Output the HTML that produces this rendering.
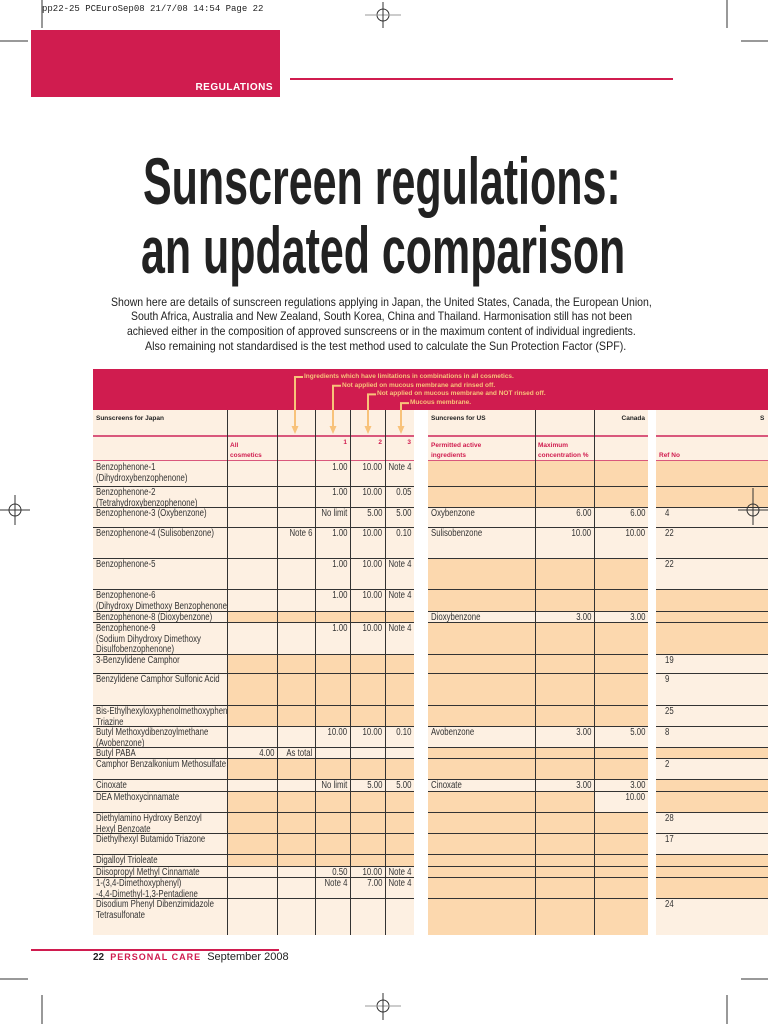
<!DOCTYPE html>
<html><head><meta charset="utf-8">
<style>
*{margin:0;padding:0;box-sizing:border-box}
body{width:768px;height:1024px;background:#fff;position:relative;overflow:hidden;font-family:"Liberation Sans",sans-serif;color:#222}
.a{position:absolute}
.fit{position:absolute;white-space:nowrap;transform-origin:0 0}
.cell{position:absolute;font-size:10px;line-height:10.5px;padding:2px 3px 0 3px;color:#333;overflow:hidden;white-space:nowrap}
.cell span{display:inline-block;transform:scaleX(0.78);transform-origin:0 0}
.cell.r span{position:absolute;right:3px;top:2px;transform-origin:100% 0}
.hd{font-family:"Liberation Sans",sans-serif;font-weight:bold;font-size:6.5px;line-height:12px}
.hd span{transform:none}
.hd.r span{transform:none}
</style></head><body>
<div class="a" style="left:42px;top:4px;font-family:'Liberation Mono',monospace;font-size:9px;color:#222">pp22-25 PCEuroSep08  21/7/08  14:54  Page 22</div>
<div class="a" style="left:31px;top:30px;width:249px;height:67px;background:#d01c4f"></div>
<div class="a" style="left:150px;top:82px;width:123px;text-align:right;color:#fff;font-family:'Liberation Sans',sans-serif;font-weight:bold;font-size:10px;letter-spacing:.5px">REGULATIONS</div>
<div class="a" style="left:290px;top:78px;width:383px;height:1.5px;background:#d01c4f"></div>

<div class="fit" id="t1" style="top:143px;font-size:66px;font-weight:bold;color:#222">Sunscreen regulations:</div>
<div class="fit" id="t2" style="top:212px;font-size:66px;font-weight:bold;color:#222">an updated comparison</div>
<div class="fit" id="p1" style="top:295px;font-size:12px">Shown here are details of sunscreen regulations applying in Japan, the United States, Canada, the European Union,</div>
<div class="fit" id="p2" style="top:309px;font-size:12px">South Africa, Australia and New Zealand, South Korea, China and Thailand. Harmonisation still has not been</div>
<div class="fit" id="p3" style="top:324px;font-size:12px">achieved either in the composition of approved sunscreens or in the maximum content of individual ingredients.</div>
<div class="fit" id="p4" style="top:339px;font-size:12px">Also remaining not standardised is the test method used to calculate the Sun Protection Factor (SPF).</div>

<div class="a" style="left:93px;top:369px;width:675px;height:41px;background:#d01c4f"></div>
<div id="tbl"></div>

<div class="a" style="left:31px;top:949px;width:248px;height:1.5px;background:#d01c4f"></div>
<div class="a" style="left:93px;top:951px;font-size:11px;white-space:nowrap"><b style="font-size:10px">22</b>&nbsp;&nbsp;<b style="font-size:9px;color:#d01c4f;letter-spacing:1px">PERSONAL CARE</b>&nbsp; September 2008</div>

<svg class="a" style="left:0;top:0" width="768" height="1024">
<g stroke="#333" stroke-width="1" fill="none">
<line x1="42" y1="0" x2="42" y2="28"/><line x1="727" y1="0" x2="727" y2="28"/>
<line x1="0" y1="41" x2="28" y2="41"/><line x1="741" y1="41" x2="768" y2="41"/>
<line x1="0" y1="979" x2="28" y2="979"/><line x1="741" y1="979" x2="768" y2="979"/>
<line x1="42" y1="995" x2="42" y2="1024"/><line x1="727" y1="995" x2="727" y2="1024"/>
<circle cx="383" cy="15" r="6"/><line x1="365" y1="15" x2="401" y2="15" stroke="#999"/><line x1="383" y1="2" x2="383" y2="28"/>
<circle cx="383" cy="1006" r="6"/><line x1="365" y1="1006" x2="401" y2="1006" stroke="#999"/><line x1="383" y1="993" x2="383" y2="1020"/>
<circle cx="15" cy="510" r="6"/><line x1="0" y1="510" x2="30" y2="510"/><line x1="15" y1="495" x2="15" y2="525"/>
<circle cx="753" cy="510" r="6"/><line x1="738" y1="510" x2="768" y2="510"/><line x1="753" y1="488" x2="753" y2="525"/>
</g></svg>

<script>
function fit(id,left,right){var e=document.getElementById(id);var w=e.scrollWidth;var s=(right-left)/w;e.style.left=left+'px';e.style.transform='scaleX('+s+')';}
fit('t1',143,621);fit('t2',141,625);fit('p1',111,652);fit('p2',131,632);fit('p3',127,636);fit('p4',145,626);

var rowEdges=[461,486,507,527,558,589,611,622,654,673,705,726,747,758,779,791,812,833,854,866,877,898,935];
var names=["Benzophenone-1<br>(Dihydroxybenzophenone)","Benzophenone-2<br>(Tetrahydroxybenzophenone)","Benzophenone-3 (Oxybenzone)","Benzophenone-4 (Sulisobenzone)","Benzophenone-5","Benzophenone-6<br>(Dihydroxy Dimethoxy Benzophenone)","Benzophenone-8 (Dioxybenzone)","Benzophenone-9<br>(Sodium Dihydroxy Dimethoxy<br>Disulfobenzophenone)","3-Benzylidene Camphor","Benzylidene Camphor Sulfonic Acid","Bis-Ethylhexyloxyphenolmethoxyphenyl<br>Triazine","Butyl Methoxydibenzoylmethane<br>(Avobenzone)","Butyl PABA","Camphor Benzalkonium Methosulfate","Cinoxate","DEA Methoxycinnamate","Diethylamino Hydroxy Benzoyl<br>Hexyl Benzoate","Diethylhexyl Butamido Triazone","Digalloyl Trioleate","Diisopropyl Methyl Cinnamate","1-(3,4-Dimethoxyphenyl)<br>-4,4-Dimethyl-1,3-Pentadiene","Disodium Phenyl Dibenzimidazole<br>Tetrasulfonate"];
var allCos=["","","","","","","","","","","","","4.00","","","","","","","","",""];
var noteCol=["","","","Note 6","","","","","","","","","As total","","","","","","","","",""];
var lim1=["1.00","1.00","No limit","1.00","1.00","1.00","","1.00","","","","10.00","","","No limit","","","","","0.50","Note 4",""];
var lim2=["10.00","10.00","5.00","10.00","10.00","10.00","","10.00","","","","10.00","","","5.00","","","","","10.00","7.00",""];
var lim3=["Note 4","0.05","5.00","0.10","Note 4","Note 4","","Note 4","","","","0.10","","","5.00","","","","","Note 4","Note 4",""];
var jpShaded=[0,0,0,0,0,0,1,0,1,1,1,0,0,1,0,1,1,1,1,0,0,0];
var usName=["","","Oxybenzone","Sulisobenzone","","","Dioxybenzone","","","","","Avobenzone","","","Cinoxate","","","","","","",""];
var usMax=["","","6.00","10.00","","","3.00","","","","","3.00","","","3.00","","","","","","",""];
var canada=["","","6.00","10.00","","","3.00","","","","","5.00","","","3.00","10.00","","","","","",""];
var refNo=["","","4","22","22","","","","19","9","25","8","","2","","","28","17","","","","24"];

var T=document.getElementById('tbl');
var LIGHT='#fdf0e2',DARK='#fcd8ae',PINK='#d01c4f',LINE='#333';
function box(x,y,w,h,bg,html,align,name,cls){var d=document.createElement('div');d.className='cell'+(cls?' '+cls:'')+(align=='right'?' r':'');d.style.left=x+'px';d.style.top=y+'px';d.style.width=w+'px';d.style.height=h+'px';if(bg)d.style.background=bg;if(align)d.style.textAlign=align;d.innerHTML=html?'<span>'+html+'</span>':'';


T.appendChild(d);return d;}
function rule(x,y,w,h,c,name){var d=document.createElement('div');d.className='a';d.style.cssText='left:'+x+'px;top:'+y+'px;width:'+w+'px;height:'+h+'px;background:'+c;


T.appendChild(d);}

var jpCols=[93,227,277,315,350,385,414];
var usCols=[428,535,594,648];
box(93,410,321,51,LIGHT,'','left','japan-header-bg');
box(428,410,220,51,LIGHT,'','left','us-header-bg');
box(656,410,112,51,LIGHT,'','left','ref-header-bg');
box(93,411,134,24,null,'Sunscreens for Japan','left','japan-header','hd').style.color='#222';
box(428,411,107,24,null,'Suncreens for US','left','us-header','hd').style.color='#222';
box(594,411,54,24,null,'Canada','right','canada-header','hd').style.color='#222';
box(757,411,20,24,null,'S','left','eu-header-partial','hd').style.color='#222';
var sh=[[227,50,'All<br>cosmetics','left','all-cosmetics-label'],[315,35,'1','right','limit-1-label'],[350,35,'2','right','limit-2-label'],[385,29,'3','right','limit-3-label'],[428,107,'Permitted active<br>ingredients','left','permitted-label'],[535,59,'Maximum<br>concentration %','left','max-conc-label'],[656,60,'<br>Ref No','left','ref-no-label']];
sh.forEach(function(s){var d=box(s[0],436,s[1],25,null,s[2],s[3],s[4],'hd');d.style.color=PINK;d.style.lineHeight='10px';d.style.paddingTop='5px';});
[[93,321],[428,220],[656,112]].forEach(function(r){rule(r[0],435,r[1],1.5,'#d9577c','header-rule-a');rule(r[0],460,r[1],1.5,'#d9577c','header-rule-b');});

for(var i=0;i<names.length;i++){
 var y=rowEdges[i],h=rowEdges[i+1]-y;
 var jb=jpShaded[i]?DARK:LIGHT;
 box(93,y,134,h,LIGHT,names[i],'left','ingredient-name');
 box(227,y,50,h,jb,allCos[i],'right','all-cosmetics-value');
 box(277,y,38,h,jb,noteCol[i],'right','note-value');
 var lb=(i==12)?LIGHT:jb;
 box(315,y,35,h,lb,lim1[i],'right','limit-1-value');
 box(350,y,35,h,lb,lim2[i],'right','limit-2-value');
 box(385,y,29,h,lb,lim3[i],'right','limit-3-value');
 var ub=usName[i]?LIGHT:DARK;
 box(428,y,107,h,ub,usName[i],'left','us-ingredient');
 box(535,y,59,h,ub,usMax[i],'right','us-max-value');
 box(594,y,54,h,canada[i]?LIGHT:DARK,canada[i],'right','canada-value');
 box(656,y,112,h,refNo[i]?LIGHT:DARK,refNo[i],'left','ref-no-value').style.paddingLeft='9px';
 if(i>0){rule(93,y-0.5,321,1.5,LINE,'row-rule');rule(428,y-0.5,220,1.5,LINE,'row-rule');rule(656,y-0.5,112,1.5,LINE,'row-rule');}
}
jpCols.slice(1,-1).forEach(function(x){rule(x-0.5,410,1.5,525,LINE,'japan-col-rule');});
usCols.slice(1,-1).forEach(function(x){rule(x-0.5,410,1.5,525,LINE,'us-col-rule');});

var legendText=["Ingredients which have limitations in combinations in all cosmetics.","Not applied on mucous membrane and rinsed off.","Not applied on mucous membrane and NOT rinsed off.","Mucous membrane."];
var arrowX=[295,333,368,401];
var svg='<svg class="a" style="left:0;top:0" width="768" height="440"><g fill="#f8c27a" stroke="#f8c27a">';
for(var k=0;k<4;k++){var ty=377+k*8.7;svg+='<polyline fill="none" stroke-width="2" points="'+(arrowX[k]+8)+','+ty+' '+arrowX[k]+','+ty+' '+arrowX[k]+',427"/><polygon stroke="none" points="'+(arrowX[k]-3.5)+',426 '+(arrowX[k]+3.5)+',426 '+arrowX[k]+',434"/>';}
svg+='</g></svg>';
T.insertAdjacentHTML('beforeend',svg);
for(var k=0;k<4;k++){var d=document.createElement('div');d.className='a';d.style.cssText='left:'+(arrowX[k]+9)+'px;top:'+(373+k*8.7)+'px;font-family:"Liberation Sans",sans-serif;font-weight:bold;font-size:6.5px;color:#f8c27a;white-space:nowrap';d.textContent=legendText[k];


T.appendChild(d);}
</script>
</body></html>
